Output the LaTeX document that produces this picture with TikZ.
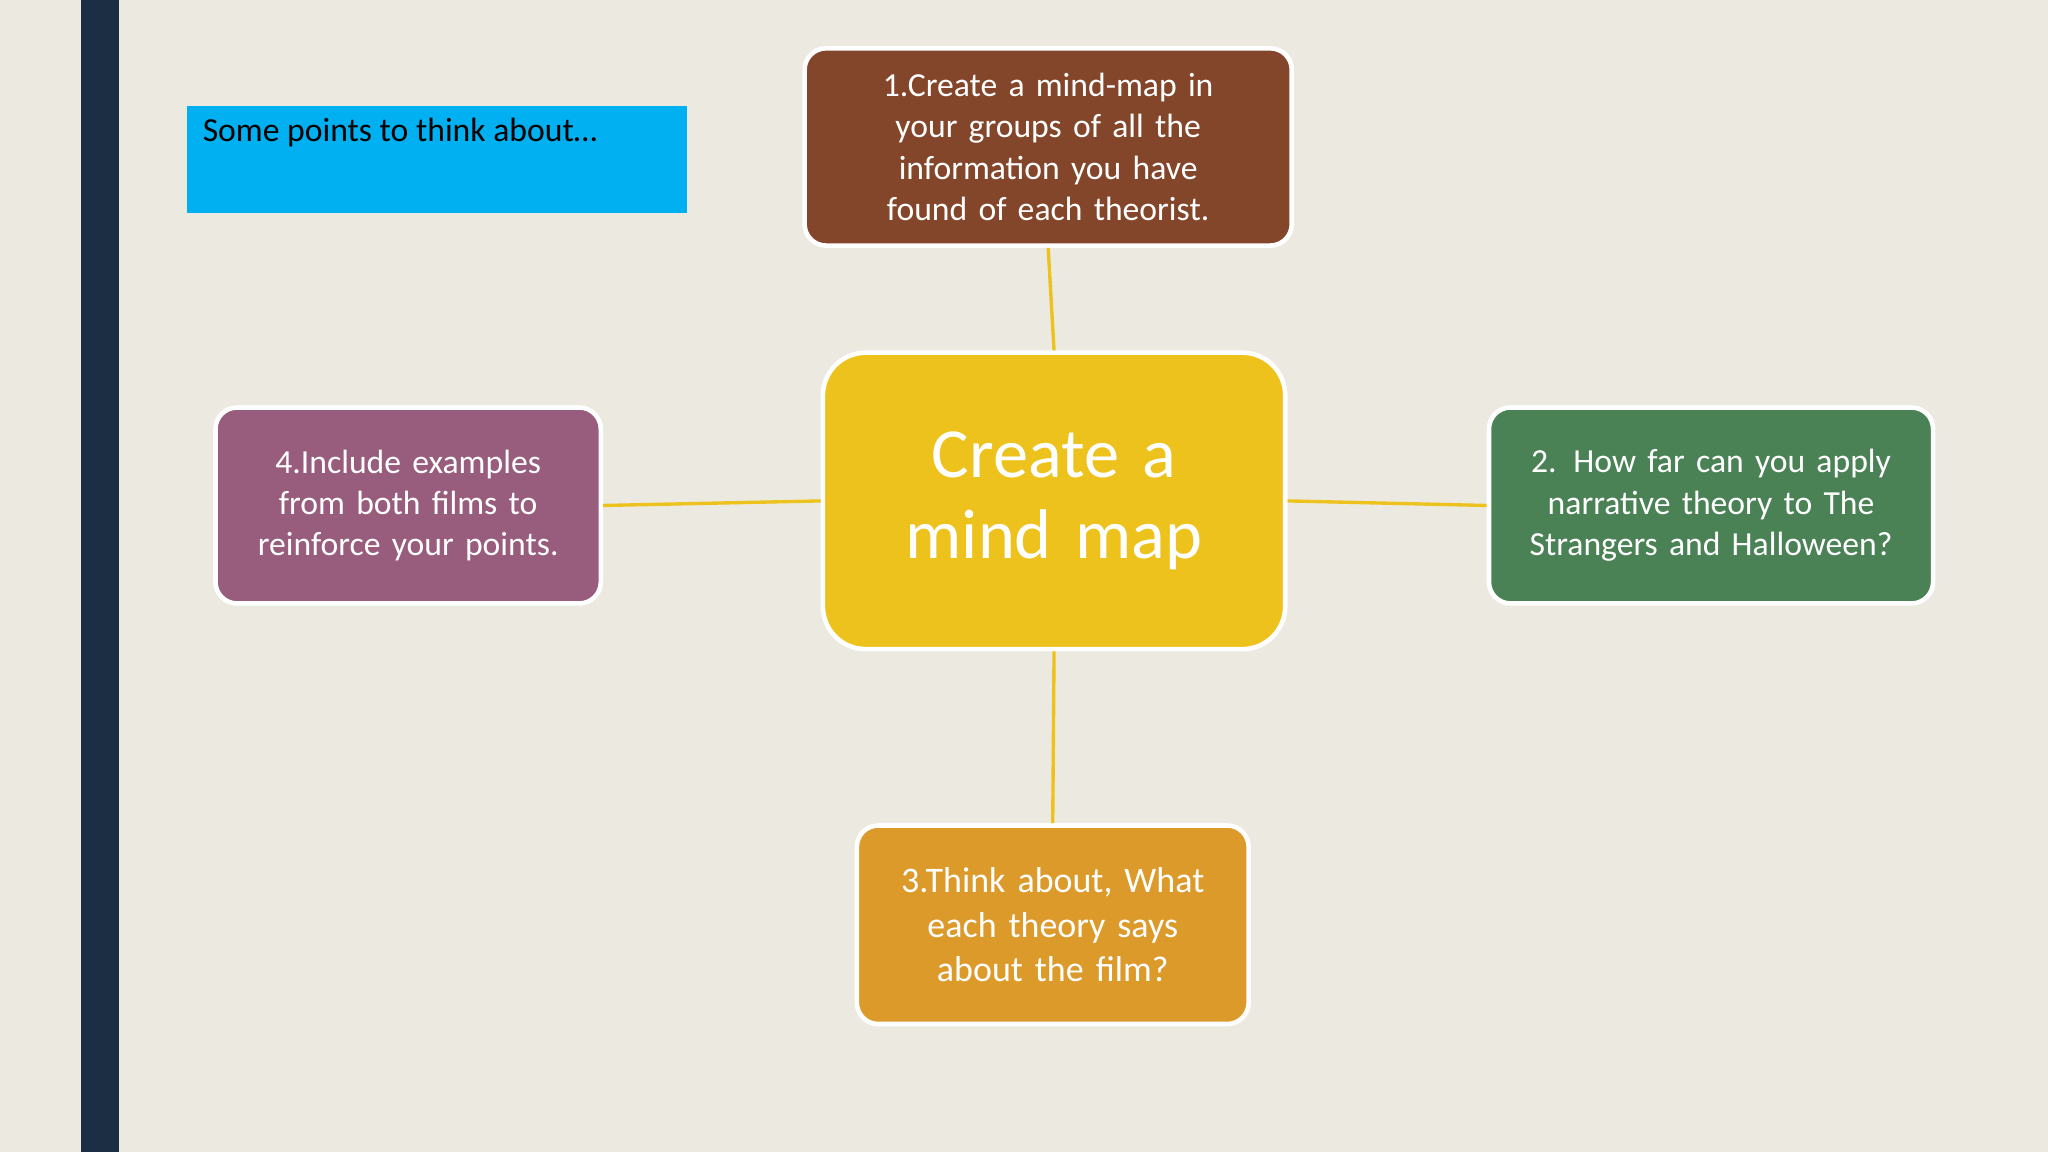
\documentclass[tikz,border=0pt]{standalone}
\usepackage{fontspec}
\setmainfont{Carlito}
\definecolor{bg}{HTML}{ECE9E1}
\definecolor{bar}{HTML}{1B2E44}
\definecolor{sky}{HTML}{00B0F0}
\definecolor{brn}{HTML}{84462A}
\definecolor{ylw}{HTML}{EEC21C}
\definecolor{grn}{HTML}{4A8256}
\definecolor{org}{HTML}{DC9A2A}
\definecolor{prp}{HTML}{985C7C}
\begin{document}
\begin{tikzpicture}[x=0.03cm,y=0.03cm,
  box/.style={draw=white,line width=3pt,rounded corners=14pt,text=white,align=center,inner sep=0pt,font=\fontsize{22}{27}\selectfont},
  link/.style={draw=ylw,line width=2.2pt}]
\fill[bg] (0,0) rectangle (1568,-882);
\useasboundingbox (0,0) rectangle (1568,-882);
\fill[bar] (62,0) rectangle (91,-882);
\fill[sky] (143,-81) rectangle (526,-163);
\node[anchor=north west,inner sep=0pt,font=\fontsize{22}{27}\selectfont] (note) at (155,-90) {Some points to think about…};
\node[box,fill=brn,minimum width=373*0.03cm,minimum height=151*0.03cm,text width=350*0.03cm] (b1) at (802.5,-112.5) {1.Create a mind-map in your groups of all the information you have found of each theorist.};
\node[box,fill=ylw,rounded corners=28pt,minimum width=354*0.03cm,minimum height=227*0.03cm,text width=330*0.03cm,font=\fontsize{46}{53}\selectfont] (c) at (807,-383.5) {Create a\\mind map};
\node[box,fill=grn,minimum width=340*0.03cm,minimum height=150*0.03cm,text width=330*0.03cm] (b2) at (1310,-387) {2. How far can you apply narrative theory to The Strangers and Halloween?};
\node[box,fill=org,minimum width=300*0.03cm,minimum height=152*0.03cm,text width=285*0.03cm,font=\fontsize{23.5}{29}\selectfont] (b3) at (806,-708) {3.Think about, What each theory says about the film?};
\node[box,fill=prp,minimum width=295*0.03cm,minimum height=150*0.03cm,text width=285*0.03cm] (b4) at (312.5,-387) {4.Include examples from both films to reinforce your points.};
\draw[link] (c.north) -- (b1.south);
\draw[link] (c.south) -- (b3.north);
\draw[link] (c.east) -- (b2.west);
\draw[link] (c.west) -- (b4.east);
\end{tikzpicture}
\end{document}
